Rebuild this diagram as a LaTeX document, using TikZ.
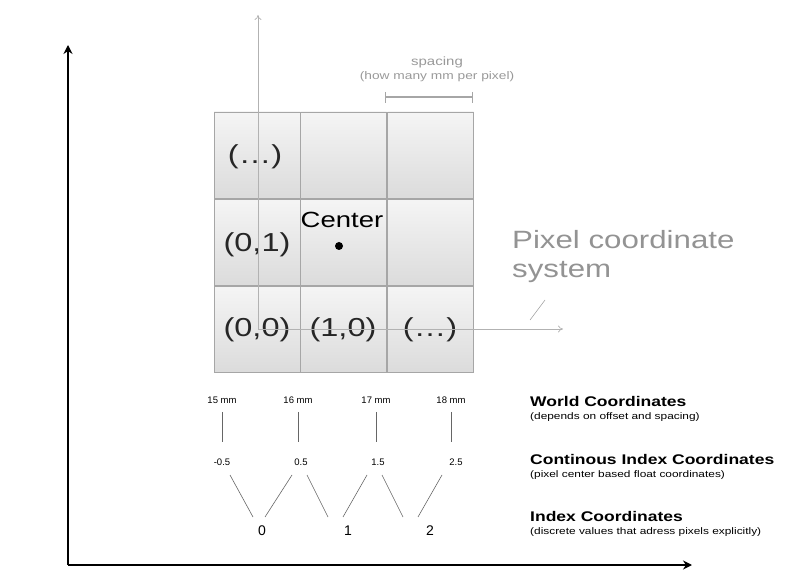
\documentclass[tikz,border=0pt]{standalone}
\usepackage{fontspec}
\setmainfont{Liberation Sans}
\usetikzlibrary{arrows.meta}
\newcommand{\widetxt}[1]{\scalebox{1.25}[1]{#1}}
\begin{document}
\begin{tikzpicture}[x=1pt,y=-1pt,
  cell/.style={draw=gray!70,top color=gray!8,bottom color=gray!28,minimum width=86pt,minimum height=86pt,inner sep=0},
  big/.style={font=\fontsize{26}{26}\selectfont,text=black!85},
  ax/.style={draw=black,line width=2.2pt,-{Stealth[length=9pt,width=9pt]}},
  pax/.style={draw=gray!60,line width=0.7pt,-{To[length=5pt,width=7pt]}},
  lbl/.style={font=\fontsize{9.5}{10}\selectfont},
  ttl/.style={font=\bfseries\fontsize{14}{14}\selectfont,anchor=west,inner sep=0},
  sub/.style={font=\fontsize{9.5}{9.5}\selectfont,anchor=west,inner sep=0},
  gtxt/.style={anchor=west,text=gray!85,font=\fontsize{25}{25}\selectfont,inner sep=0},
  thin/.style={draw=black!60,line width=0.6pt}]
\useasboundingbox (0,0) rectangle (785,585);
% big axes
\coordinate (O) at (68,565);
\coordinate (Ytop) at (68,45);
\coordinate (Xend) at (692,565);
\draw[ax] (O) -- (Ytop);
\draw[ax] (O) -- (Xend);
% grid
\foreach \i/\x in {0/257,1/343.5,2/430.5}{
  \foreach \j/\y in {0/329,1/242,2/155}{
    \node[cell] (c\i\j) at (\x,\y) {};
  }
}
\node[big] (t02) at (255,157) {\widetxt{(\ldots)}};
\node[big] (t01) at (257,245) {\widetxt{(0,1)}};
\node[big] (t00) at (257,330) {\widetxt{(0,0)}};
\node[big] (t10) at (343,330) {\widetxt{(1,0)}};
\node[big] (t20) at (430,330) {\widetxt{(\ldots)}};
\node[font=\fontsize{22}{22}\selectfont] (ctr) at (342,220) {\widetxt{Center}};
\node[circle,fill=black,inner sep=0,minimum size=8pt] (dot) at (339,246) {};
% pixel axes
\coordinate (po) at (258,329);
\coordinate (py) at (258,15);
\coordinate (px) at (563,329);
\draw[pax] (po) -- (py);
\draw[pax] (po) -- (px);
\node[gtxt] (pcs1) at (512,240) {\widetxt{Pixel coordinate}};
\node[gtxt] (pcs2) at (512,272) {\widetxt{system}};
\coordinate (s1) at (545,300);
\coordinate (s2) at (530,320);
\draw[draw=gray!70,line width=0.6pt] (s1) -- (s2);
% spacing
\node[text=gray!80,font=\fontsize{12}{12}\selectfont] (sp) at (437,62) {\widetxt{spacing}};
\node[text=gray!80,font=\fontsize{11}{11}\selectfont] (sp2) at (437,77) {\widetxt{(how many mm per pixel)}};
\coordinate (b1) at (385,97);
\coordinate (b2) at (472,97);
\draw[draw=gray!70,line width=1.3pt] (b1) -- (b2);
\draw[draw=gray!70,line width=0.8pt] (385,92) -- (385,103) (472,92) -- (472,103);
% bottom
\foreach \n/\x/\t in {w0/222/15 mm,w1/298/16 mm,w2/376/17 mm,w3/451/18 mm}{
  \node[lbl] (\n) at (\x,400) {\t};
  \draw[thin] (\x,412) -- (\x,442);
}
\node[lbl] (k0) at (222,462) {-0.5};
\node[lbl] (k1) at (301,462) {0.5};
\node[lbl] (k2) at (378,462) {1.5};
\node[lbl] (k3) at (456,462) {2.5};
\node[font=\fontsize{14}{14}\selectfont] (i0) at (262,531) {0};
\node[font=\fontsize{14}{14}\selectfont] (i1) at (348,531) {1};
\node[font=\fontsize{14}{14}\selectfont] (i2) at (430,531) {2};
\draw[thin] (230,475) -- (253,517) (292,475) -- (265,517)
  (307,475) -- (328,517) (367,475) -- (343,517)
  (382,475) -- (403,517) (442,475) -- (418,517);
% legend
\node[ttl] (l1) at (530,401) {\widetxt{World Coordinates}};
\node[sub] (l1s) at (530,417) {\widetxt{(depends on offset and spacing)}};
\node[ttl] (l2) at (530,459) {\widetxt{Continous Index Coordinates}};
\node[sub] (l2s) at (530,475) {\widetxt{(pixel center based float coordinates)}};
\node[ttl] (l3) at (530,516) {\widetxt{Index Coordinates}};
\node[sub] (l3s) at (530,532) {\widetxt{(discrete values that adress pixels explicitly)}};
\end{tikzpicture}
\end{document}
